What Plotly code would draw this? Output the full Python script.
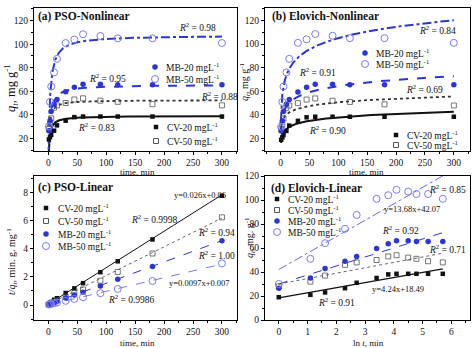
import numpy as np
import plotly.graph_objects as go

W, H = 474, 348
FONT = "Liberation Serif"

# contact time (min) and measured uptake q_t (mg/g)
time_min = [1, 3, 5, 10, 15, 30, 45, 60, 90, 120, 180, 300]
q_cv20 = [19, 21, 23, 26.5, 31, 35, 38, 38.5, 38.5, 38.5, 38.5, 38.5]
q_cv50 = [28, 32, 37, 46, 48, 50, 53, 54, 52, 51, 49, 48]
q_mb20 = [26.5, 35, 43, 49, 53, 59.5, 63.5, 66, 66, 65.5, 65.5, 65.5]
q_mb50 = [30, 51, 64, 76, 87.5, 101, 104, 108.5, 107, 105, 105, 101]

series_names = ["CV-20", "CV-50", "MB-20", "MB-50"]
uptake = [q_cv20, q_cv50, q_mb20, q_mb50]

# pseudo-second-order nonlinear fit parameters: q_e (mg/g), k2 (g/mg/min)
pso_qe = [39.0, 52.5, 65.5, 107.5]
pso_k2 = [0.013, 0.012, 0.006, 0.0032]
pso_r2 = ["0.83", "0.88", "0.95", "0.98"]

# Elovich fit: q = a + b ln t
elo_a = [18.49, 30.0, 30.0, 42.07]
elo_b = [4.24, 4.5, 7.5, 13.68]
elo_r2_nl = ["0.90", "0.69", "0.91", "0.84"]
elo_r2_lin = ["0.91", "0.71", "0.92", "0.85"]

# linearised PSO fit: t/q = slope * t + intercept
lin_slope = [0.026, 0.0205, 0.0152, 0.0097]
lin_icpt = [0.06, 0.05, 0.03, 0.007]
lin_r2 = ["0.9998", "0.94", "1.00", "0.9986"]

# ---- styling ----
BLACK = "#111111"
GRAY = "#555555"
BLUE = "#2b35d8"
LBLUE = "#7a7cf2"

marker_style = [
    dict(symbol="square", color=BLACK, size=4.5),
    dict(symbol="square-open", color=GRAY, size=5, line=dict(width=0.8, color=GRAY)),
    dict(symbol="circle", color=BLUE, size=5.5),
    dict(symbol="circle-open", color=LBLUE, size=7, line=dict(width=1, color=LBLUE)),
]
thick_lines = [
    dict(color=BLACK, width=2, dash="solid"),
    dict(color="#333333", width=1.8, dash="dot"),
    dict(color=BLUE, width=2, dash="dash"),
    dict(color=BLUE, width=2, dash="dashdot"),
]
thin_lines_c = [
    dict(color=BLACK, width=1, dash="solid"),
    dict(color="#666666", width=1, dash="dot"),
    dict(color=BLUE, width=1, dash="dash"),
    dict(color=LBLUE, width=1, dash="dash"),
]
thin_lines_d = [
    dict(color=BLACK, width=1.3, dash="solid"),
    dict(color="#666666", width=1, dash="dot"),
    dict(color=BLUE, width=1, dash="dash"),
    dict(color="#6668e8", width=1, dash="dashdot"),
]

t_arr = np.array(time_min, dtype=float)
ln_t = np.log(t_arr)
t_fine = np.linspace(0.0, 300.0, 601)
t_fine_pos = np.linspace(0.6, 300.0, 800)
ln_fine = np.linspace(0.0, float(ln_t[-1]), 50)

fig = go.Figure()

# panel a: measured uptake with PSO nonlinear curves
for i in range(4):
    qe, k = pso_qe[i], pso_k2[i]
    fig.add_trace(go.Scatter(x=t_fine, y=k * qe**2 * t_fine / (1 + k * qe * t_fine),
                             mode="lines", line=thick_lines[i], xaxis="x", yaxis="y",
                             showlegend=False, hoverinfo="skip"))
for i in range(4):
    fig.add_trace(go.Scatter(x=time_min, y=uptake[i], mode="markers", marker=marker_style[i],
                             xaxis="x", yaxis="y", showlegend=False))

# panel b: Elovich nonlinear curves
for i in range(4):
    fig.add_trace(go.Scatter(x=t_fine_pos, y=elo_a[i] + elo_b[i] * np.log(t_fine_pos),
                             mode="lines", line=thick_lines[i], xaxis="x2", yaxis="y2",
                             showlegend=False, hoverinfo="skip"))
for i in range(4):
    fig.add_trace(go.Scatter(x=time_min, y=uptake[i], mode="markers", marker=marker_style[i],
                             xaxis="x2", yaxis="y2", showlegend=False))

# panel c: linearised PSO, t/q versus t
for i in range(4):
    fig.add_trace(go.Scatter(x=t_fine, y=lin_slope[i] * t_fine + lin_icpt[i],
                             mode="lines", line=thin_lines_c[i], xaxis="x3", yaxis="y3",
                             showlegend=False, hoverinfo="skip"))
for i in range(4):
    fig.add_trace(go.Scatter(x=time_min, y=t_arr / np.array(uptake[i]), mode="markers",
                             marker=marker_style[i], xaxis="x3", yaxis="y3", showlegend=False))

# panel d: linearised Elovich, q versus ln t
for i in range(4):
    fig.add_trace(go.Scatter(x=ln_fine, y=elo_a[i] + elo_b[i] * ln_fine,
                             mode="lines", line=thin_lines_d[i], xaxis="x4", yaxis="y4",
                             showlegend=False, hoverinfo="skip"))
for i in range(4):
    fig.add_trace(go.Scatter(x=ln_t, y=uptake[i], mode="markers", marker=marker_style[i],
                             xaxis="x4", yaxis="y4", showlegend=False))


def px_x(v):
    return v / W


def px_y(v):
    return 1 - v / H


def axis(dom, rng, dtick, tick0, minor_dtick, anchor):
    return dict(
        domain=dom, range=rng, dtick=dtick, tick0=tick0, anchor=anchor,
        showline=True, mirror=True, linecolor="black", linewidth=1,
        ticks="outside", ticklen=3, tickcolor="black", tickwidth=1,
        minor=dict(dtick=minor_dtick, tick0=tick0, ticks="outside", ticklen=2,
                   tickcolor="black", tickwidth=0.8),
        showgrid=False, zeroline=False,
        tickfont=dict(family=FONT, size=9.5, color="#111"),
        automargin=False,
    )


def mirror_axis(base, overlay, side):
    # inward ticks on the opposite frame edge, no labels
    return dict(
        domain=base["domain"], range=base["range"], dtick=base["dtick"], tick0=base["tick0"],
        overlaying=overlay, side=side, anchor=base["anchor"],
        showline=False, showticklabels=False,
        ticks="inside", ticklen=3, tickcolor="black", tickwidth=1,
        minor=dict(dtick=base["minor"]["dtick"], tick0=base["tick0"], ticks="inside",
                   ticklen=1.5, tickcolor="black", tickwidth=0.8),
        showgrid=False, zeroline=False, automargin=False,
    )


dom_x_left = [px_x(34), px_x(237)]
dom_x_right = [px_x(265), px_x(470)]
dom_y_top = [px_y(151), px_y(8)]
dom_y_bot = [px_y(320), px_y(176)]

axes = dict(
    xaxis=axis(dom_x_left, [-24.7, 326], 50, 0, 25, "y"),
    yaxis=axis(dom_y_top, [9.2, 130.8], 20, 0, 10, "x"),
    xaxis2=axis(dom_x_right, [-27, 328], 50, 0, 25, "y2"),
    yaxis2=axis(dom_y_top, [9.5, 130.5], 20, 0, 10, "x2"),
    xaxis3=axis(dom_x_left, [-24.7, 326], 50, 0, 25, "y3"),
    yaxis3=axis(dom_y_bot, [-1.07, 9.2], 2, 0, 1, "x3"),
    xaxis4=axis(dom_x_right, [-0.48, 6.65], 1, 0, 0.5, "y4"),
    yaxis4=axis(dom_y_bot, [0, 120], 20, 0, 10, "x4"),
)
mirrors = {}
for n in range(1, 5):
    sfx = "" if n == 1 else str(n)
    xa = axes["xaxis" + sfx]
    ya = axes["yaxis" + sfx]
    mx = mirror_axis(xa, "x" + sfx, "top")
    mx["anchor"] = "y" + sfx
    my = mirror_axis(ya, "y" + sfx, "right")
    my["anchor"] = "x" + sfx
    mirrors["xaxis" + str(n + 4)] = mx
    mirrors["yaxis" + str(n + 4)] = my

fig.update_layout(
    width=W, height=H, margin=dict(l=0, r=0, t=0, b=0),
    paper_bgcolor="white", plot_bgcolor="white",
    font=dict(family=FONT, color="#111"),
    showlegend=False,
    **axes, **mirrors,
)

ann = []
shapes = []


def text_at(x, y, s, size=10, xref="paper", yref="paper", anchor="center", bold=False,
            angle=0, color="#111"):
    if bold:
        s = "<b>" + s + "</b>"
    ann.append(dict(x=x, y=y, xref=xref, yref=yref, text=s, showarrow=False,
                    xanchor=anchor, yanchor="middle", textangle=angle,
                    font=dict(family=FONT, size=size, color=color)))


# panel labels
text_at(px_x(36), px_y(17), "(a) PSO-Nonlinear", size=11.5, anchor="left", bold=True)
text_at(px_x(270), px_y(17), "(b) Elovich-Nonlinear", size=11.5, anchor="left", bold=True)
text_at(px_x(36), px_y(187), "(c) PSO-Linear", size=11.5, anchor="left", bold=True)
text_at(px_x(269), px_y(188), "(d) Elovich-Linear", size=11.5, anchor="left", bold=True)

# axis titles
qt = "<i>q<sub>t</sub></i>, mg g<sup>-1</sup>"
text_at(px_x(11), px_y(88), qt, size=12.5, angle=-90)
text_at(px_x(245), px_y(82), qt, size=10, angle=-90)
text_at(px_x(12), px_y(262), "<i>t/q<sub>t</sub></i>, min. g. mg<sup>-1</sup>", size=10, angle=-90)
text_at(px_x(250), px_y(238), "<i>q<sub>t</sub></i>, mg. g<sup>-1</sup>", size=10, angle=-90)
text_at(px_x(137), px_y(171.5), "time, min", size=9)
text_at(px_x(366), px_y(172), "time, min", size=9)
text_at(px_x(137), px_y(342.5), "time, min", size=9)
text_at(px_x(368), px_y(342.5), "ln <i>t</i>, min", size=9)


def r2(v):
    return "<i>R</i><sup>2</sup> = " + v


# fit statistics, placed in data coordinates of each panel
text_at(257, 114.6, r2(pso_r2[3]), 9.5, "x", "y")
text_at(103, 71.3, r2(pso_r2[2]), 9.5, "x", "y")
text_at(296, 56, r2(pso_r2[1]), 9.5, "x", "y")
text_at(84, 29.6, r2(pso_r2[0]), 9.5, "x", "y")

text_at(272, 111.5, r2(elo_r2_nl[3]), 9.5, "x2", "y2")
text_at(64, 76, r2(elo_r2_nl[2]), 9.5, "x2", "y2")
text_at(249, 61.9, r2(elo_r2_nl[1]), 9.5, "x2", "y2")
text_at(81, 27.4, r2(elo_r2_nl[0]), 9.5, "x2", "y2")

text_at(262, 7.86, f"y={lin_slope[0]}x+{lin_icpt[0]}", 8.5, "x3", "y3")
text_at(184, 6.1, r2(lin_r2[0]), 9.5, "x3", "y3")
text_at(291, 5.18, r2(lin_r2[1]), 9.5, "x3", "y3")
text_at(291, 3.56, r2(lin_r2[2]), 9.5, "x3", "y3")
text_at(262, 1.6, f"y={lin_slope[3]}x+{lin_icpt[3]}", 8.5, "x3", "y3")
text_at(144, 0.43, r2(lin_r2[3]), 9.5, "x3", "y3")

text_at(5.86, 109, r2(elo_r2_lin[3]), 9.5, "x4", "y4")
text_at(4.63, 92.5, f"y={elo_b[3]}x+{elo_a[3]}", 8.5, "x4", "y4")
text_at(4.22, 75, r2(elo_r2_lin[2]), 9.5, "x4", "y4")
text_at(5.86, 59, r2(elo_r2_lin[1]), 9.5, "x4", "y4")
text_at(4.16, 25.8, f"y={elo_b[0]}x+{elo_a[0]}", 8.5, "x4", "y4")
text_at(2.0, 15.3, r2(elo_r2_lin[0]), 9.5, "x4", "y4")


def legend_key(i, xp, yp):
    m = marker_style[i]
    sym = m["symbol"]
    r = m["size"] / 2
    filled = not sym.endswith("open")
    kind = "rect" if sym.startswith("square") else "circle"
    shapes.append(dict(
        type=kind, xref="paper", yref="paper", xsizemode="pixel", ysizemode="pixel",
        xanchor=px_x(xp), yanchor=px_y(yp), x0=-r, x1=r, y0=-r, y1=r,
        fillcolor=m["color"] if filled else "rgba(0,0,0,0)",
        line=dict(color=m["color"], width=0 if filled else 1),
    ))


def legend(items, xp, ys, text_dx=9, size=9.5):
    for i, yp in zip(items, ys):
        legend_key(i, xp, yp)
        text_at(px_x(xp + text_dx), px_y(yp), series_names[i] + " mgL<sup>-1</sup>",
                size=size, anchor="left")


legend([2, 3], 155, [67, 79])
legend([0, 1], 156, [127, 141])
legend([2, 3], 365, [53, 64])
legend([0, 1], 396, [135, 145])
legend([0, 1, 2, 3], 46, [208, 221, 234, 246], text_dx=10)
legend([0, 1, 2, 3], 277, [199, 210, 221, 232])

fig.update_layout(annotations=ann, shapes=shapes)

fig.write_html("out.html")
